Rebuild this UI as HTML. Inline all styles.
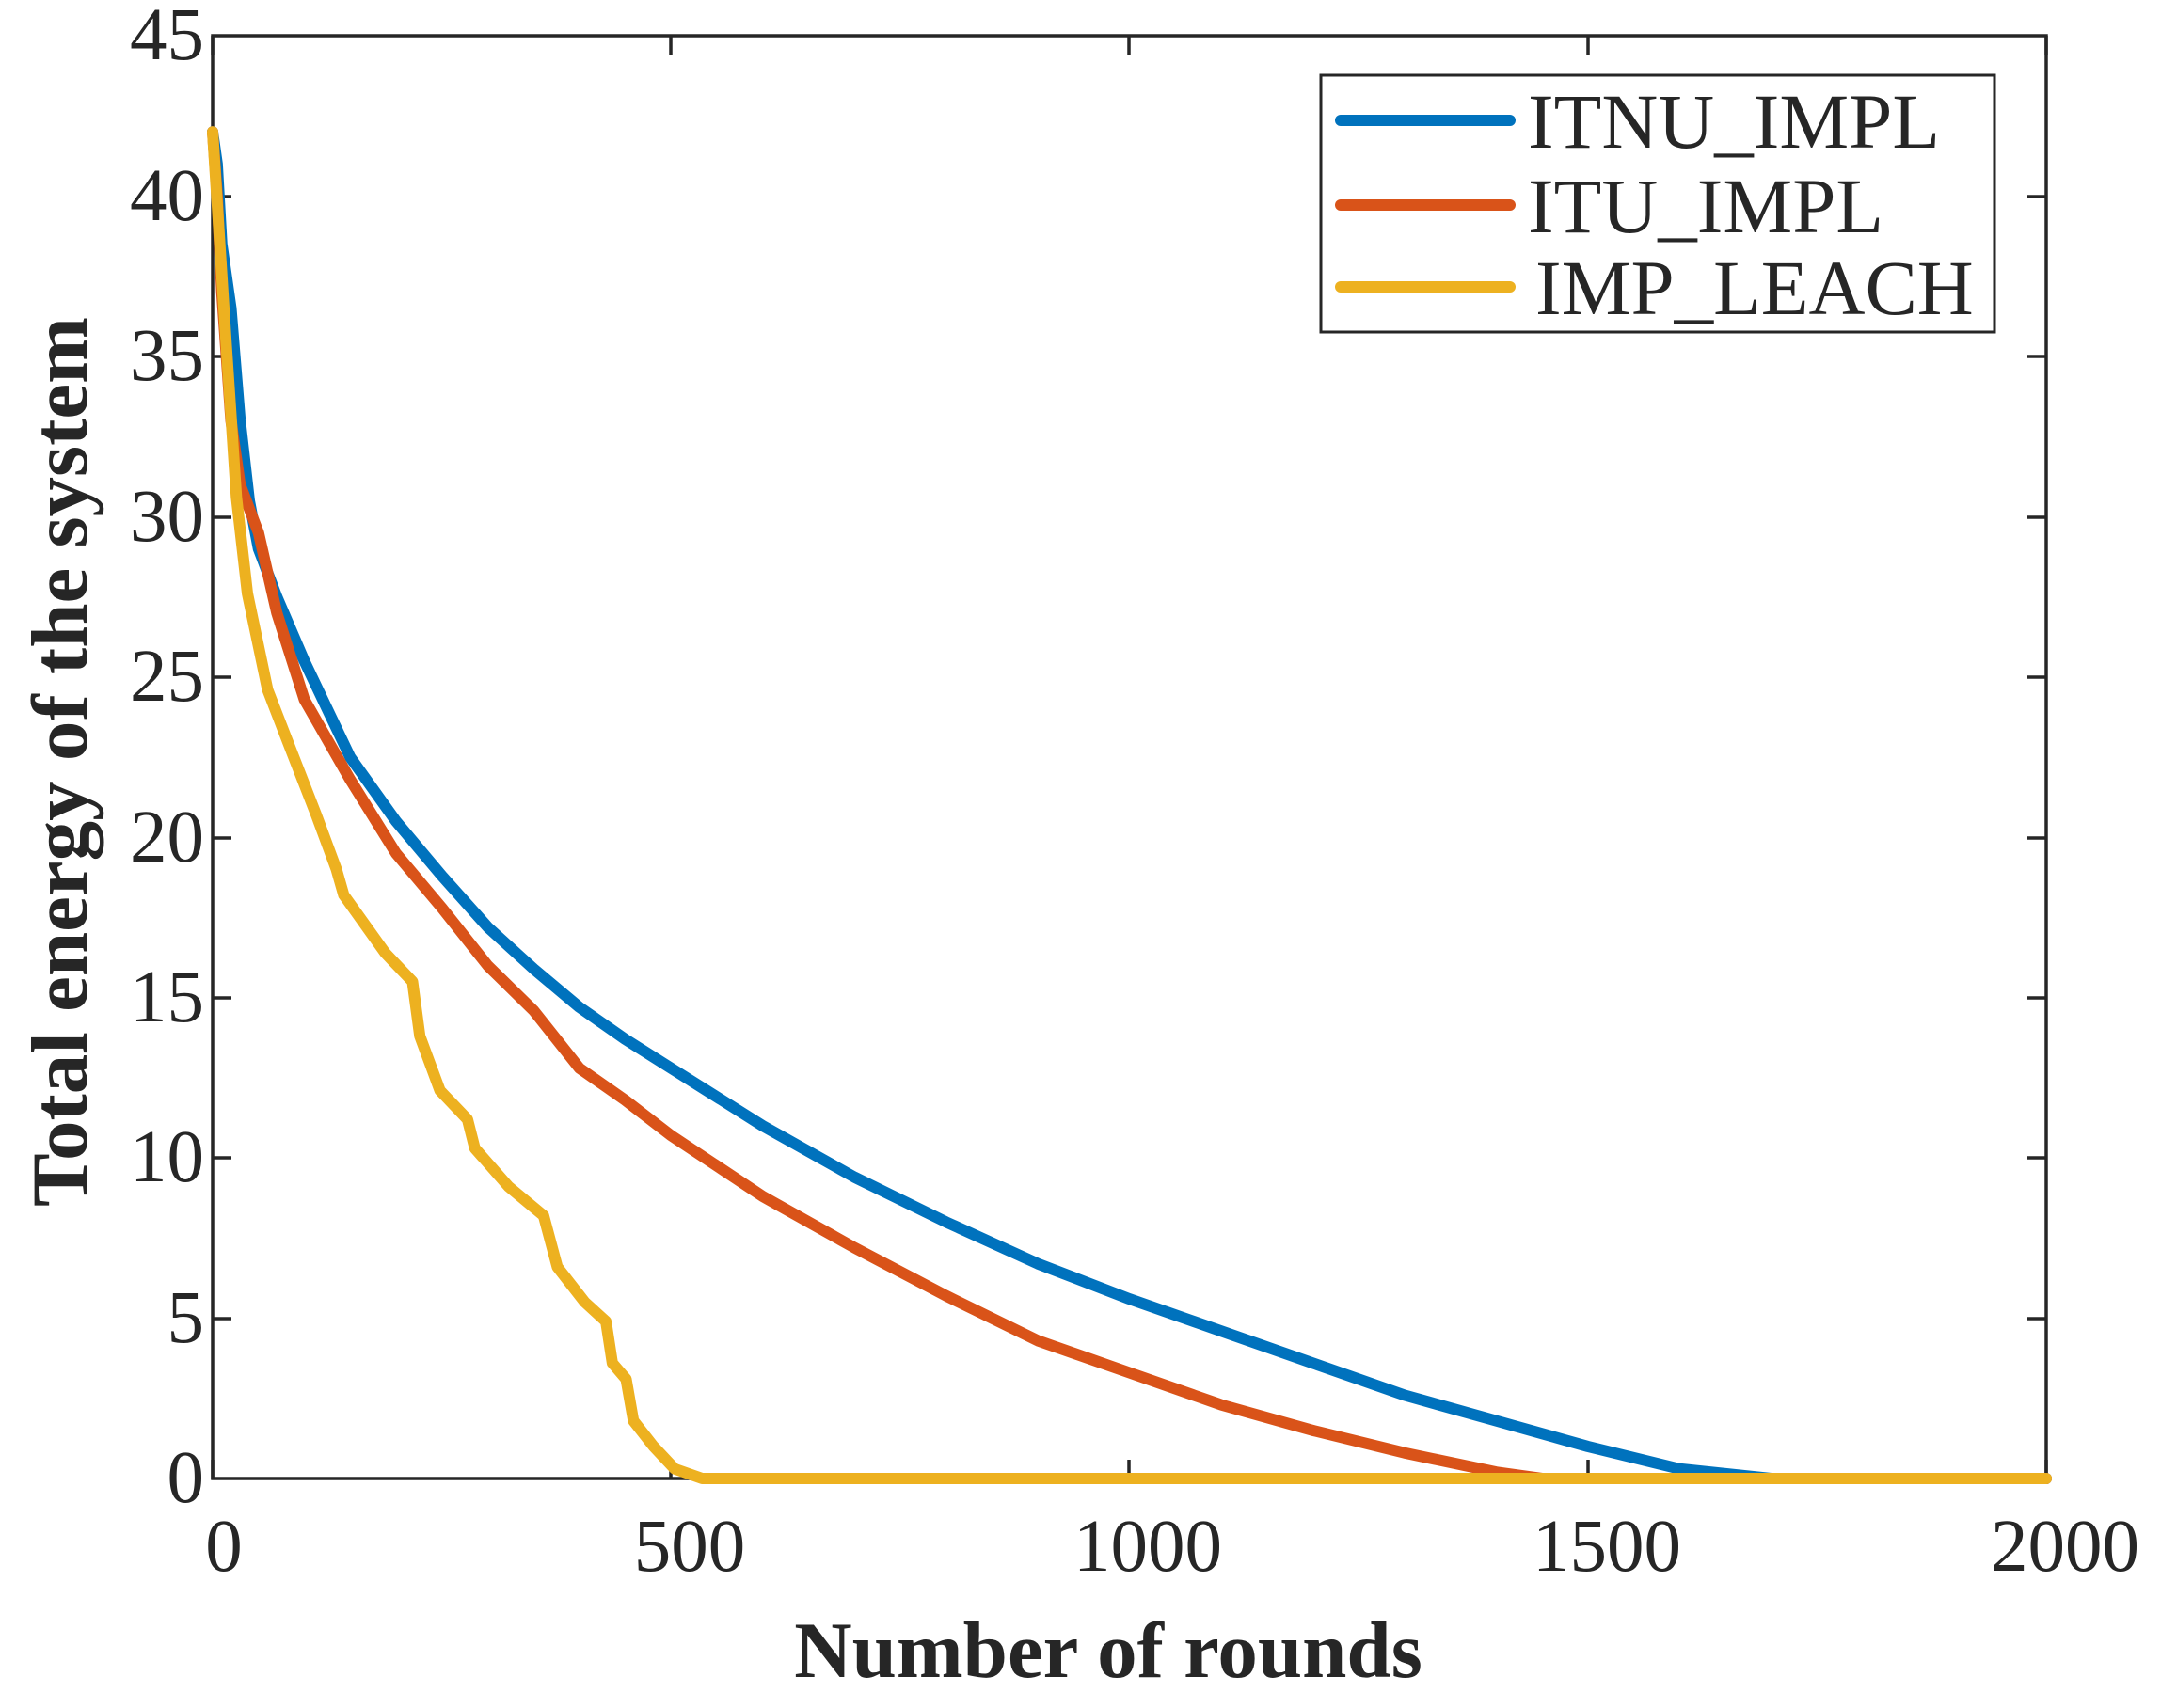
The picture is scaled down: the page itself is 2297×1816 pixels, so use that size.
<!DOCTYPE html>
<html><head><style>body{margin:0;background:#fff}</style></head><body>
<svg width="2297" height="1811" xmlns="http://www.w3.org/2000/svg" font-family="Liberation Serif, serif" fill="#262626">
<rect width="2297" height="1811" fill="#fff"/>
<g stroke="#262626" stroke-width="3.5" fill="none">
<rect x="226" y="38" width="1949" height="1534"/>
<path d="M226,1572v-20M713,1572v-20M1200,1572v-20M1688,1572v-20M2175,1572v-20
M226,38v20M713,38v20M1200,38v20M1688,38v20M2175,38v20
M226,1402h20M226,1231h20M226,1061h20M226,891h20M226,720h20M226,550h20M226,379h20M226,209h20
M2175,1402h-20M2175,1231h-20M2175,1061h-20M2175,891h-20M2175,720h-20M2175,550h-20M2175,379h-20M2175,209h-20"/>
</g>
<g font-size="79" text-anchor="end">
<text x="217" y="1597">0</text><text x="217" y="1427">5</text><text x="217" y="1256">10</text><text x="217" y="1086">15</text><text x="217" y="916">20</text><text x="217" y="745">25</text><text x="217" y="575">30</text><text x="217" y="404">35</text><text x="217" y="234">40</text><text x="217" y="63">45</text>
</g>
<g font-size="79" text-anchor="middle">
<text x="238" y="1670">0</text><text x="733" y="1670">500</text><text x="1220" y="1670">1000</text><text x="1708" y="1670">1500</text><text x="2195" y="1670">2000</text>
</g>
<text x="1178" y="1783" font-size="85" font-weight="bold" text-anchor="middle">Number of rounds</text>
<text transform="translate(92,810) rotate(-90)" font-size="85" font-weight="bold" text-anchor="middle">Total energy of the system</text>
<g transform="translate(226,1572) scale(0.9745,-34.09)" fill="none" stroke-width="12" stroke-linejoin="round" stroke-linecap="round">
<polyline vector-effect="non-scaling-stroke" stroke="#0072BD" points="0,42 5,41 10,38.5 20,36.5 30,33 40,30.5 50,29 70,27.5 100,25.5 150,22.5 200,20.5 250,18.8 300,17.2 350,15.9 400,14.7 450,13.7 500,12.8 600,11 700,9.4 800,8 900,6.7 1000,5.6 1100,4.6 1200,3.6 1300,2.6 1400,1.8 1500,1 1600,0.3 1700,0 2000,0"/>
<polyline vector-effect="non-scaling-stroke" stroke="#D95319" points="0,42 5,40 10,37 20,33 30,31 50,29.5 70,27 100,24.3 150,21.8 200,19.5 250,17.8 300,16 350,14.6 400,12.8 450,11.8 500,10.7 600,8.8 700,7.2 800,5.7 900,4.3 1000,3.3 1100,2.3 1200,1.5 1300,0.8 1400,0.2 1450,0 2000,0"/>
<polyline vector-effect="non-scaling-stroke" stroke="#EDB120" points="0,42 15,35.3 26,30.6 38,27.6 60,24.6 83,22.9 113,20.7 135,19 143,18.2 188,16.4 218,15.5 226,13.8 248,12.1 278,11.2 286,10.3 323,9.1 361,8.2 376,6.6 406,5.5 429,4.9 436,3.6 451,3.1 459,1.8 481,1 504,0.3 534,0 2000,0"/>
</g>
<rect x="1404" y="80" width="716" height="273" fill="#fff" stroke="#262626" stroke-width="3"/>
<g stroke-width="12" stroke-linecap="round">
<line x1="1425" y1="128" x2="1605" y2="128" stroke="#0072BD"/>
<line x1="1425" y1="218" x2="1605" y2="218" stroke="#D95319"/>
<line x1="1425" y1="305" x2="1605" y2="305" stroke="#EDB120"/>
</g>
<g font-size="83">
<text x="1624" y="157">ITNU_IMPL</text>
<text x="1624" y="247">ITU_IMPL</text>
<text x="1632" y="334">IMP_LEACH</text>
</g>
</svg>
</body></html>
